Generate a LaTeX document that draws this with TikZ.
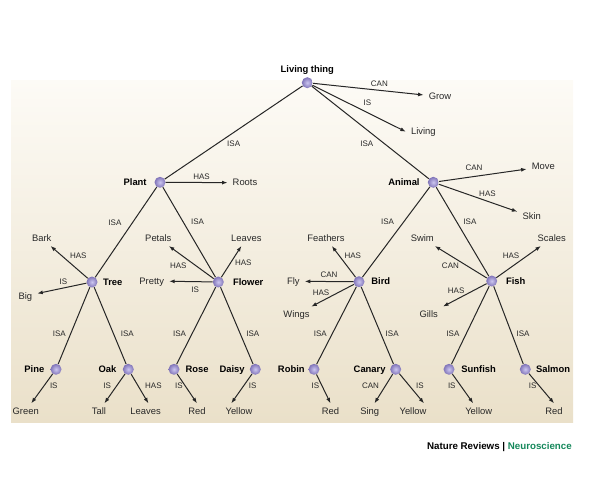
\documentclass[tikz,border=0pt]{standalone}
\usepackage{fontspec}
\setmainfont{Liberation Sans}
\usetikzlibrary{arrows.meta, positioning}
\definecolor{paperbg}{RGB}{234,224,201}
\definecolor{papertop}{RGB}{253,251,246}
\definecolor{dotin}{RGB}{204,198,240}
\definecolor{dotout}{RGB}{128,116,184}
\definecolor{inkgrey}{RGB}{40,40,40}
\definecolor{neurogreen}{RGB}{20,135,90}

\begin{document}
\begin{tikzpicture}[x=1pt, y=-1pt,
    concept/.style={circle, minimum size=11pt, inner sep=0pt, inner color=dotin, outer color=dotout},
    cname/.style={font=\fontsize{9.4}{11}\selectfont\bfseries, inner sep=1pt, text height=6.8pt, text depth=0.4pt},
    fact/.style={font=\fontsize{9.4}{11}\selectfont, text=inkgrey, inner xsep=5pt, inner ysep=3.9pt, text height=6.8pt, text depth=0.4pt},
    rel/.style={font=\fontsize{8}{9}\selectfont, text=inkgrey, inner sep=1pt},
    link/.style={line width=1pt, draw=black!85},
    arrow/.style={link, -{Latex[length=5.5pt, width=4pt]}}
]
\useasboundingbox (0,0) rectangle (600,482);
\shade[top color=papertop, bottom color=paperbg] (11,80) rectangle (573,422);

% concepts
\node[concept] (living) at (307.3,82.7) {};
\node[concept] (plant) at (160,182.3) {};
\node[concept] (animal) at (433.3,182.3) {};
\node[concept] (tree) at (92,282) {};
\node[concept] (flower) at (218.3,282) {};
\node[concept] (bird) at (359,281.7) {};
\node[concept] (fish) at (491.7,281) {};
\node[concept] (pine) at (56,369.3) {};
\node[concept] (oak) at (128.3,369.3) {};
\node[concept] (rose) at (174,369.3) {};
\node[concept] (daisy) at (255.3,369.3) {};
\node[concept] (robin) at (314,369.3) {};
\node[concept] (canary) at (395.7,369.3) {};
\node[concept] (sunfish) at (449,369.3) {};
\node[concept] (salmon) at (525.3,369.3) {};

\node[cname, above=3.4pt of living] (livingname) {Living thing};
\node[cname, left=6.5pt of plant] (plantname) {Plant};
\node[cname, left=6.8pt of animal] (animalname) {Animal};
\node[cname, right=4.2pt of tree] (treename) {Tree};
\node[cname, right=7.9pt of flower] (flowername) {Flower};
\node[cname, right=5.5pt of bird] (birdname) {Bird};
\node[cname, right=7.5pt of fish] (fishname) {Fish};
\node[cname, left=4.8pt of pine] (pinename) {Pine};
\node[cname, left=5.1pt of oak] (oakname) {Oak};
\node[cname, right=4.8pt of rose] (rosename) {Rose};
\node[cname, left=3.8pt of daisy] (daisyname) {Daisy};
\node[cname, left=2.5pt of robin] (robinname) {Robin};
\node[cname, left=3.2pt of canary] (canaryname) {Canary};
\node[cname, right=5.5pt of sunfish] (sunfishname) {Sunfish};
\node[cname, right=3.9pt of salmon] (salmonname) {Salmon};

% properties
\node[fact] (grow) at (440,96.7) {Grow};
\node[fact] (alive) at (423.3,131.7) {Living};
\node[fact] (roots) at (245,182.7) {Roots};
\node[fact] (move) at (543.3,166.7) {Move};
\node[fact] (skin) at (531.7,216.7) {Skin};
\node[fact] (bark) at (41.7,238.3) {Bark};
\node[fact] (big) at (25.3,296) {Big};
\node[fact] (petals) at (158.3,238.3) {Petals};
\node[fact] (leaves) at (246.3,238.3) {Leaves};
\node[fact] (pretty) at (151.7,281) {Pretty};
\node[fact] (feathers) at (326,238.3) {Feathers};
\node[fact] (fly) at (293.3,281.3) {Fly};
\node[fact] (wings) at (296.5,314.3) {Wings};
\node[fact] (swim) at (422.3,238.3) {Swim};
\node[fact] (scales) at (551.7,238.3) {Scales};
\node[fact] (gills) at (428.7,314) {Gills};
\node[fact] (green) at (25.7,411) {Green};
\node[fact] (tall) at (99,411) {Tall};
\node[fact] (oakleaves) at (145.6,411) {Leaves};
\node[fact] (rosered) at (197,411) {Red};
\node[fact] (daisyyellow) at (239,411) {Yellow};
\node[fact] (robinred) at (330.5,411) {Red};
\node[fact] (sing) at (369.7,411) {Sing};
\node[fact] (canaryyellow) at (413,411) {Yellow};
\node[fact] (sunfishyellow) at (478.7,411) {Yellow};
\node[fact] (salmonred) at (554,411) {Red};

% top level
\draw[arrow] (living) -- (grow) node[rel, pos=.60, above=2.4pt] (canGrow) {CAN};
\draw[arrow] (living) -- (alive.west) node[rel, pos=.59, above=5.8pt] (isLiving) {IS};
\draw[link] (living) -- (plant) node[rel, pos=.50, below=6.8pt] (isaPlant) {ISA};
\draw[link] (living) -- (animal) node[rel, pos=.47, below=9.7pt] (isaAnimal) {ISA};

\draw[arrow] (plant) -- (roots) node[rel, pos=.58, above=1.4pt] (hasRoots) {HAS};
\draw[link] (plant) -- (tree) node[rel, pos=.40, left=9.3pt] (isaTree) {ISA};
\draw[link] (plant) -- (flower) node[rel, pos=.38, right=6.8pt] (isaFlower) {ISA};
\draw[arrow] (animal) -- (move) node[rel, pos=.40, above=4.3pt] (canMove) {CAN};
\draw[arrow] (animal) -- (skin) node[rel, pos=.62, above=3.4pt] (hasSkin) {HAS};
\draw[link] (animal) -- (bird) node[rel, pos=.39, left=8.1pt] (isaBird) {ISA};
\draw[link] (animal) -- (fish) node[rel, pos=.39, right=5.3pt] (isaFish) {ISA};

% plants
\draw[arrow] (tree) -- (bark) node[rel, pos=.70, right=6.8pt] (hasBark) {HAS};
\draw[arrow] (tree) -- (big) node[rel, pos=.47, above=1.8pt] (isBig) {IS};
\draw[link] (tree) -- (pine) node[rel, pos=.61, left=3.2pt] (isaPine) {ISA};
\draw[link] (tree) -- (oak) node[rel, pos=.61, right=5.7pt] (isaOak) {ISA};
\draw[arrow] (flower) -- (petals) node[rel, pos=.79, below=8.2pt] (hasPetals) {HAS};
\draw[arrow] (flower) -- (leaves) node[rel, pos=.47, right=2.8pt] (hasLeaves) {HAS};
\draw[arrow] (flower) -- (pretty) node[rel, pos=.40, below=3.8pt] (isPretty) {IS};
\draw[link] (flower) -- (rose) node[rel, pos=.61, left=4.4pt] (isaRose) {ISA};
\draw[link] (flower) -- (daisy) node[rel, pos=.61, right=4.5pt] (isaDaisy) {ISA};

% animals
\draw[arrow] (bird) -- (feathers) node[rel, pos=.69, right=3.8pt] (hasFeathers) {HAS};
\draw[arrow] (bird) -- (fly) node[rel, pos=.50, above=2.1pt] (canFly) {CAN};
\draw[arrow] (bird) -- (wings) node[rel, pos=.77, above=4.3pt] (hasWings) {HAS};
\draw[link] (bird) -- (robin) node[rel, pos=.61, left=3.9pt] (isaRobin) {ISA};
\draw[link] (bird) -- (canary) node[rel, pos=.61, right=3.3pt] (isaCanary) {ISA};
\draw[arrow] (fish) -- (swim) node[rel, pos=.70, below=5.7pt] (canSwim) {CAN};
\draw[arrow] (fish) -- (scales) node[rel, pos=.33, above=6.7pt] (hasScales) {HAS};
\draw[arrow] (fish) -- (gills) node[rel, pos=.70, above=4.3pt] (hasGills) {HAS};
\draw[link] (fish) -- (sunfish) node[rel, pos=.61, left=5.3pt] (isaSunfish) {ISA};
\draw[link] (fish) -- (salmon) node[rel, pos=.61, right=3.3pt] (isaSalmon) {ISA};

% bottom row
\draw[arrow] (pine) -- (green) node[rel, pos=.40, right=4.4pt] (isGreen) {IS};
\draw[arrow] (oak) -- (tall) node[rel, pos=.40, left=4.3pt] (isTall) {IS};
\draw[arrow] (oak) -- (oakleaves.70) node[rel, pos=.40, right=5.6pt] (hasOakLeaves) {HAS};
\draw[arrow] (rose) -- (rosered.north) node[rel, pos=.40, left=0.9pt] (isRoseRed) {IS};
\draw[arrow] (daisy) -- (daisyyellow.135) node[rel, pos=.40, right=3.6pt] (isDaisyYellow) {IS};
\draw[arrow] (robin) -- (robinred.north) node[rel, pos=.40, left=1.4pt] (isRobinRed) {IS};
\draw[arrow] (canary) -- (sing) node[rel, pos=.40, left=5pt] (canSing) {CAN};
\draw[arrow] (canary) -- (canaryyellow.35) node[rel, pos=.40, right=5.4pt] (isCanaryYellow) {IS};
\draw[arrow] (sunfish) -- (sunfishyellow) node[rel, pos=.40, left=3.6pt] (isSunfishYellow) {IS};
\draw[arrow] (salmon) -- (salmonred.north) node[rel, pos=.40, left=1pt] (isSalmonRed) {IS};

\node[anchor=east, inner sep=0pt, font=\fontsize{9.75}{11}\selectfont\bfseries] (credit) at (572,446.7)
    {Nature Reviews | \textcolor{neurogreen}{Neuroscience}};
\end{tikzpicture}
\end{document}
